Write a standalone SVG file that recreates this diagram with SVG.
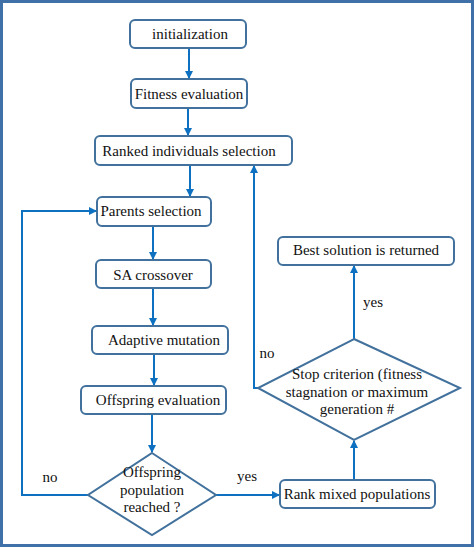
<svg xmlns="http://www.w3.org/2000/svg" width="474" height="547" viewBox="0 0 474 547">
<style>
.box{fill:#fff;stroke:#41719C;stroke-width:2}
.dia{fill:#fff;stroke:#41719C;stroke-width:2}
.t{font-family:Tinos,"Times New Roman",Times,"Liberation Serif","DejaVu Serif","Noto Serif",serif;font-size:15px;fill:#111;text-anchor:middle;dominant-baseline:central}
.c{fill:none;stroke:#0E70C0;stroke-width:2}
</style>
<defs>
<marker id="ah" markerWidth="8" markerHeight="8" refX="7" refY="4" orient="auto" markerUnits="userSpaceOnUse">
<path d="M0,0 L8,4 L0,8 Z" fill="#0E70C0"/>
</marker>
</defs>
<rect x="1.5" y="1.5" width="471" height="544" fill="#fff" stroke="#4070A8" stroke-width="3"/>
<g id="connectors">
<line class="c" x1="189" y1="49" x2="189" y2="78" marker-end="url(#ah)"/>
<line class="c" x1="188" y1="108" x2="188" y2="135" marker-end="url(#ah)"/>
<line class="c" x1="190" y1="165" x2="190" y2="196" marker-end="url(#ah)"/>
<line class="c" x1="153" y1="226" x2="153" y2="259" marker-end="url(#ah)"/>
<line class="c" x1="153" y1="288" x2="153" y2="325" marker-end="url(#ah)"/>
<line class="c" x1="154" y1="354" x2="154" y2="385" marker-end="url(#ah)"/>
<line class="c" x1="152" y1="414" x2="152" y2="452" marker-end="url(#ah)"/>
<polyline class="c" points="88,495 22,495 22,211 96,211" marker-end="url(#ah)"/>
<line class="c" x1="216" y1="495" x2="279" y2="495" marker-end="url(#ah)"/>
<line class="c" x1="354" y1="480" x2="354" y2="441" marker-end="url(#ah)"/>
<line class="c" x1="354" y1="339" x2="354" y2="266" marker-end="url(#ah)"/>
<polyline class="c" points="258,388 254,388 254,166" marker-end="url(#ah)"/>
</g>
<g id="init"><rect class="box" x="130" y="20" width="116" height="28" rx="5"/><text class="t" x="190" y="34">initialization</text></g>
<g id="fitness"><rect class="box" x="131" y="79" width="116" height="29" rx="5"/><text class="t" x="189" y="94">Fitness evaluation</text></g>
<g id="ranked"><rect class="box" x="95" y="136" width="197" height="29" rx="5"/><text class="t" x="189" y="151">Ranked individuals selection</text></g>
<g id="parents"><rect class="box" x="97" y="197" width="114" height="29" rx="5"/><text class="t" x="151" y="211">Parents selection</text></g>
<g id="sa"><rect class="box" x="96" y="260" width="115" height="28" rx="5"/><text class="t" x="153" y="275">SA crossover</text></g>
<g id="mutation"><rect class="box" x="92" y="326" width="136" height="28" rx="5"/><text class="t" x="164" y="340">Adaptive mutation</text></g>
<g id="offeval"><rect class="box" x="81" y="386" width="145" height="28" rx="5"/><text class="t" x="158" y="400">Offspring evaluation</text></g>
<g id="offdia"><polygon class="dia" points="152,453 216,495 152,535 88,495"/>
<text class="t" x="152" y="472">Offspring</text><text class="t" x="152" y="490">population</text><text class="t" x="152" y="507">reached ?</text></g>
<g id="rankmixed"><rect class="box" x="280" y="480" width="155" height="28" rx="5"/><text class="t" x="357" y="494">Rank mixed populations</text></g>
<g id="stopdia"><polygon class="dia" points="354,339 460,388 354,440 258,388"/>
<text class="t" x="357" y="374">Stop criterion (fitness</text><text class="t" x="357" y="392">stagnation or maximum</text><text class="t" x="357" y="409">generation #</text></g>
<g id="best"><rect class="box" x="278" y="237" width="176" height="28" rx="5"/><text class="t" x="366" y="250">Best solution is returned</text></g>
<g id="labels">
<text class="t" x="373" y="302">yes</text>
<text class="t" x="267" y="353">no</text>
<text class="t" x="50" y="477">no</text>
<text class="t" x="247" y="476">yes</text>
</g>
</svg>
